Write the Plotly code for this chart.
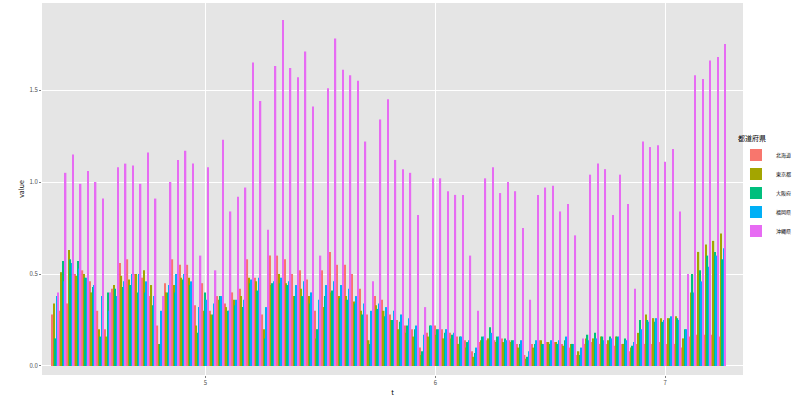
import plotly.graph_objects as go

n = 90
t0, dt = 4.347, 0.0326
t = [round(t0 + i*dt, 4) for i in range(n)]

hokkaido = [0.28,0.30,0.34,0.50,0.52,0.46,0.30,0.20,0.42,0.56,
 0.58,0.50,0.48,0.38,0.22,0.45,0.58,0.55,0.55,0.33,
 0.45,0.30,0.38,0.34,0.40,0.42,0.58,0.48,0.28,0.60,
 0.60,0.58,0.50,0.52,0.47,0.30,0.52,0.62,0.55,0.55,
 0.50,0.42,0.28,0.38,0.36,0.28,0.25,0.22,0.20,0.10,
 0.18,0.22,0.20,0.18,0.16,0.14,0.08,0.13,0.14,0.14,
 0.15,0.14,0.12,0.06,0.12,0.14,0.13,0.13,0.12,0.10,
 0.06,0.12,0.13,0.12,0.12,0.11,0.12,0.08,0.12,0.12,
 0.12,0.13,0.12,0.12,0.10,0.16,0.17,0.17,0.17,0.16]
tokyo = [0.34,0.51,0.63,0.49,0.50,0.40,0.20,0.16,0.44,0.49,
 0.47,0.50,0.52,0.44,0.12,0.40,0.44,0.48,0.48,0.22,
 0.30,0.28,0.36,0.32,0.36,0.38,0.48,0.46,0.20,0.44,
 0.50,0.45,0.38,0.42,0.38,0.15,0.32,0.40,0.38,0.38,
 0.35,0.30,0.14,0.33,0.30,0.25,0.20,0.18,0.16,0.06,
 0.16,0.17,0.15,0.15,0.12,0.10,0.05,0.14,0.15,0.13,
 0.13,0.13,0.10,0.04,0.10,0.14,0.13,0.13,0.11,0.12,
 0.08,0.15,0.15,0.16,0.14,0.16,0.12,0.10,0.18,0.28,
 0.26,0.26,0.26,0.27,0.15,0.40,0.62,0.66,0.68,0.72]
osaka = [0.15,0.57,0.58,0.57,0.48,0.43,0.16,0.40,0.42,0.43,
 0.44,0.40,0.40,0.33,0.12,0.40,0.40,0.47,0.44,0.18,
 0.40,0.28,0.38,0.30,0.33,0.32,0.45,0.41,0.15,0.45,
 0.45,0.44,0.38,0.38,0.34,0.20,0.38,0.41,0.37,0.36,
 0.34,0.28,0.12,0.31,0.27,0.25,0.24,0.22,0.20,0.08,
 0.22,0.20,0.18,0.17,0.16,0.13,0.07,0.16,0.21,0.16,
 0.15,0.14,0.12,0.05,0.12,0.12,0.12,0.12,0.14,0.12,
 0.06,0.17,0.18,0.16,0.16,0.16,0.15,0.11,0.25,0.25,
 0.24,0.24,0.26,0.26,0.20,0.50,0.52,0.60,0.62,0.58]
fukuoka = [0.38,0.46,0.56,0.53,0.48,0.44,0.38,0.30,0.38,0.46,
 0.50,0.50,0.46,0.38,0.30,0.44,0.50,0.50,0.46,0.32,
 0.36,0.34,0.38,0.30,0.36,0.36,0.47,0.48,0.32,0.46,
 0.48,0.46,0.44,0.46,0.40,0.36,0.44,0.46,0.44,0.42,
 0.38,0.34,0.30,0.34,0.32,0.30,0.28,0.26,0.22,0.17,
 0.22,0.20,0.20,0.18,0.16,0.14,0.10,0.16,0.18,0.16,
 0.14,0.14,0.14,0.08,0.14,0.12,0.14,0.14,0.16,0.12,
 0.10,0.14,0.15,0.14,0.15,0.16,0.14,0.13,0.20,0.24,
 0.26,0.25,0.27,0.25,0.20,0.40,0.46,0.54,0.60,0.64]
okinawa = [0.40,1.05,1.15,0.99,1.06,1.00,0.91,0.40,1.08,1.10,
 1.09,0.99,1.16,0.91,0.38,1.00,1.12,1.17,1.10,0.60,
 1.08,0.52,1.23,0.84,0.92,0.97,1.65,1.44,0.74,1.63,
 1.88,1.62,1.57,1.71,1.41,0.60,1.51,1.78,1.61,1.58,
 1.55,1.22,0.46,1.34,1.45,1.12,1.07,1.05,0.82,0.32,
 1.02,1.02,0.95,0.93,0.93,0.60,0.30,1.02,1.08,0.94,
 1.00,0.95,0.75,0.36,0.93,0.97,0.98,0.84,0.88,0.71,
 0.15,1.04,1.10,1.07,0.82,1.04,0.88,0.42,1.22,1.19,
 1.20,1.11,1.18,0.84,0.50,1.58,1.56,1.66,1.68,1.75]

names = ["北海道", "東京都", "大阪府", "福岡県", "沖縄県"]
series = [hokkaido, tokyo, osaka, fukuoka, okinawa]
colors = ["#F8766D", "#A3A500", "#00BF7D", "#00B0F6", "#E76BF3"]

fig = go.Figure()
for nm, s, c in zip(names, series, colors):
    fig.add_trace(go.Bar(x=t, y=s, name=nm, marker=dict(color=c, line=dict(width=0))))

font = "Noto Sans CJK JP"
fig.update_layout(
    barmode="group", bargap=0.05, bargroupgap=0,
    width=800, height=400, margin=dict(l=42, r=55, t=3, b=25),
    paper_bgcolor="white", plot_bgcolor="#E5E5E5",
    font=dict(family=font, size=6, color="#4D4D4D"),
    legend=dict(title=dict(text="都道府県", font=dict(size=7, color="black")),
                x=0.99, y=0.5, yanchor="middle", font=dict(size=5, color="black"),
                itemwidth=30, bgcolor="rgba(0,0,0,0)", tracegroupgap=0),
    xaxis=dict(range=[4.289, 7.338], tickvals=[5, 6, 7], ticktext=["5", "6", "7"],
               gridcolor="white", gridwidth=1, zeroline=False, ticks="outside",
               ticklen=2, tickcolor="#7F7F7F",
               title=dict(text="t", font=dict(size=7, color="black"), standoff=3)),
    yaxis=dict(range=[-0.049, 1.973], tickvals=[0, 0.5, 1.0, 1.5],
               ticktext=["0.0", "0.5", "1.0", "1.5"],
               gridcolor="white", gridwidth=1, zeroline=False, ticks="outside",
               ticklen=2, tickcolor="#7F7F7F",
               title=dict(text="value", font=dict(size=7, color="black"), standoff=4)),
)
post = ("document.body.style.margin='0';document.body.style.padding='0';"
        "document.body.style.overflow='hidden';"
        "Plotly.relayout(document.getElementsByClassName('plotly-graph-div')[0], {width:800,height:400});")
fig.write_html("out.html", post_script=post, config={"displayModeBar": False})
